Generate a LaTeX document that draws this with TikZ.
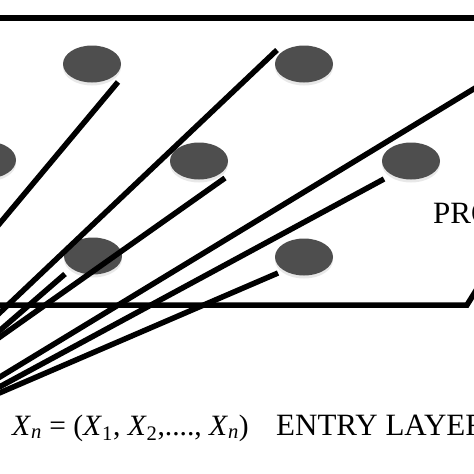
\documentclass[tikz,border=0pt]{standalone}
\usepackage{fontspec}
\setmainfont{Liberation Serif}
\usetikzlibrary{shapes.geometric,shadows}
\definecolor{nodegray}{RGB}{78, 78, 78}
\newcommand{\Xsub}[1]{\textit{X}\textsubscript{#1}}

\begin{document}
\begin{tikzpicture}[x=1pt, y=-1pt,
  neuron/.style={ellipse, fill=nodegray, minimum width=58pt, minimum height=37pt,
    inner sep=0pt, drop shadow={opacity=0.18, shadow xshift=0pt, shadow yshift=-3pt}},
  wire/.style={line width=5.5pt, black},
  plane/.style={line width=5.5pt, black},
  label/.style={font=\fontsize{31}{37}\selectfont, inner sep=0pt, anchor=base west}]
\clip (0,0) rectangle (474,474);
\fill[white] (0,0) rectangle (474,474);

% Processing plane
\draw[plane] (-10,18) -- (484,18);
\draw[plane] (-10,305) -- (467,305) -- (480,284);
\node[label] (proc) at (433,223) {PRO};

% Neurons
\node[neuron] (n1) at (92,64) {};
\node[neuron] (n2) at (304,64) {};
\node[neuron] (n3) at (-13,160) {};
\node[neuron] (n4) at (199,161) {};
\node[neuron] (n5) at (411,161) {};
\node[neuron] (n6) at (93,256) {};
\node[neuron] (n7) at (304,257) {};

% Input wires, upper ends
\coordinate (t1) at (118,82);
\coordinate (t2) at (277,50);
\coordinate (t3) at (225,178);
\coordinate (t4) at (490,79);
\coordinate (t5) at (384,179);
\coordinate (t6) at (278,273);
\coordinate (t7) at (65,274);
% Input wires, lower ends
\coordinate (b1) at (-20,247);
\coordinate (b2) at (-10,322);
\coordinate (b3) at (-10,344);
\coordinate (b4) at (-10,383);
\coordinate (b5) at (-10,392);
\coordinate (b6) at (-10,397);
\coordinate (b7) at (-10,339);
\foreach \i in {1,...,7} {
    \draw[wire] (t\i) -- (b\i);
}

% Entry layer
\node[label, font=\fontsize{29.5}{36}\selectfont] (xvec) at (12,435)
  {\Xsub{\textit{n}} = (\Xsub{1}, \Xsub{2},...., \Xsub{\textit{n}})};
\node[label] (entry) at (276,435) {ENTRY LAYER};
\end{tikzpicture}
\end{document}
